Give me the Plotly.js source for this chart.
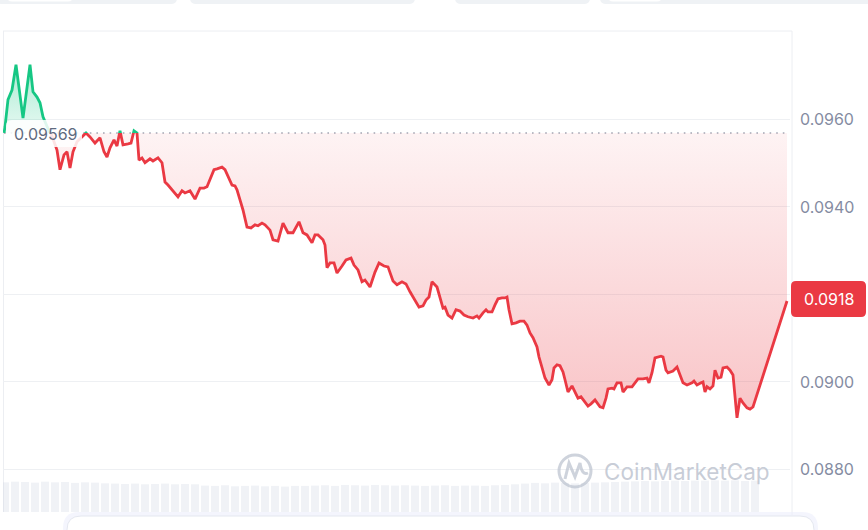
<!DOCTYPE html>
<html><head><meta charset="utf-8">
<script src="https://cdn.plot.ly/plotly-3.0.1.min.js"></script>
<style>html,body{margin:0;padding:0;background:#fff;overflow:hidden}#chart{width:868px;height:530px}</style>
</head><body><div id="chart"></div>
<script>
// ---- data (time step index across the 24h window, price in USD) ----
const t = [4,5,8,12,16,23,30,33,37,40,43,47,52,57,60,64,67,70,73,77,81,86,90,95,100,104,107,110,114,117,
120,123,128,131,134,137,139,142,145,150,153,158,162,165,168,172,175,178,182,185,190,195,200,204,207,210,214,217,222,225,
228,232,235,237,240,243,247,251,255,258,262,265,270,273,278,283,288,293,299,303,307,312,315,318,323,325,327,330,334,337,
342,346,351,354,358,362,365,370,375,379,384,388,393,397,402,406,410,415,419,423,426,429,432,437,440,443,445,448,452,456,
460,464,468,473,477,479,483,486,488,492,495,498,502,505,507,509,512,516,520,524,527,530,533,537,539,542,545,549,552,554,
557,560,563,565,568,572,575,578,581,584,588,591,595,600,603,606,608,612,614,617,621,623,627,632,635,638,643,647,649,652,
655,658,661,663,666,668,673,677,680,683,687,692,694,697,701,703,705,707,710,713,715,718,721,723,727,730,733,735,737,740,
743,747,750,753,787];
const price = [0.09569,0.09583,0.09645,0.09667,0.09725,0.09603,0.09725,0.09663,0.09651,0.09638,0.09606,0.09585,0.09562,0.09530,0.09485,0.09519,0.09526,0.09489,0.09526,0.09549,0.09558,0.09569,0.09560,0.09546,0.09558,0.09526,0.09514,0.09535,0.09553,0.09539,
0.09574,0.09542,0.09544,0.09546,0.09574,0.09569,0.09507,0.09512,0.09501,0.09510,0.09505,0.09512,0.09501,0.09457,0.09450,0.09439,0.09432,0.09423,0.09437,0.09432,0.09437,0.09418,0.09443,0.09443,0.09446,0.09462,0.09485,0.09487,0.09491,0.09485,
0.09471,0.09450,0.09448,0.09439,0.09416,0.09393,0.09354,0.09352,0.09359,0.09357,0.09363,0.09359,0.09347,0.09325,0.09322,0.09363,0.09341,0.09341,0.09366,0.09341,0.09336,0.09318,0.09336,0.09336,0.09325,0.09313,0.09261,0.09272,0.09272,0.09249,
0.09265,0.09279,0.09283,0.09267,0.09256,0.09229,0.09233,0.09217,0.09251,0.09272,0.09265,0.09263,0.09231,0.09222,0.09229,0.09224,0.09206,0.09187,0.09171,0.09174,0.09187,0.09194,0.09229,0.09217,0.09194,0.09169,0.09171,0.09153,0.09146,0.09165,
0.09162,0.09153,0.09149,0.09146,0.09151,0.09146,0.09158,0.09165,0.09160,0.09160,0.09176,0.09190,0.09192,0.09192,0.09194,0.09165,0.09133,0.09135,0.09139,0.09139,0.09130,0.09112,0.09101,0.09080,0.09057,0.09032,0.09009,0.08993,0.09005,0.09032,
0.09039,0.09037,0.09023,0.09005,0.08977,0.08991,0.08977,0.08963,0.08966,0.08957,0.08945,0.08950,0.08959,0.08943,0.08941,0.08963,0.08984,0.08986,0.08984,0.08998,0.08998,0.08977,0.08989,0.08989,0.08998,0.09007,0.09007,0.09009,0.08998,0.09021,
0.09055,0.09057,0.09059,0.09057,0.09027,0.09021,0.09025,0.09034,0.09016,0.08998,0.08993,0.08998,0.09002,0.08993,0.08998,0.09000,0.08977,0.08989,0.08984,0.08991,0.09027,0.09009,0.09011,0.09032,0.09034,0.09027,0.09016,0.08966,0.08918,0.08963,
0.08952,0.08941,0.08938,0.08943,0.09185];
const baseline = 0.09569;
const baseLabel = '0.09569';
const lastLabel = '0.0918';
const yTicks = [0.0880, 0.0900, 0.0920, 0.0940, 0.0960];
// the 0.0920 label sits under the current-price badge, so it is left blank
const yTickText = ['0.0880', '0.0900', '', '0.0940', '0.0960'];
const volT = [5,15,25,35,45,55,65,75,85,95,105,115,125,135,145,155,165,175,185,195,205,215,225,235,245,255,265,275,285,295,
305,315,325,335,345,355,365,375,385,395,405,415,425,435,445,455,465,475,485,495,505,515,525,535,545,555,565,575,585,595,
605,615,625,635,645,655,665,675,685,695,705,715,725,735,745,755];
const vol = [90,92,91,89,92,90,91,88,90,89,87,86,85,86,84,85,86,84,85,84,80,79,81,78,79,80,78,79,77,79,
79,80,81,79,82,81,80,82,81,80,81,80,79,80,81,79,80,80,79,81,82,84,86,88,87,89,88,87,88,89,
90,91,92,93,94,93,94,95,94,95,95,96,95,96,94,95];

// ---- layout geometry (pixels) ----
const W = 868, H = 530, PL = 3, PR = 790, PT = 31, PB = 515;
const X = px => (px - PL) / (PR - PL);
const Y = py => (PB - py) / (PB - PT);
const yRange = [0.08696, 0.09802];
const f = (baseline - yRange[0]) / (yRange[1] - yRange[0]);
const pyOf = v => PT + (yRange[1] - v) / (yRange[1] - yRange[0]) * (PB - PT);
function rrect(x0, y0, x1, y1, r) {
  const p = (a, b) => X(a).toFixed(5) + ',' + Y(b).toFixed(5);
  return 'M' + p(x0 + r, y0) + ' L' + p(x1 - r, y0) + ' Q' + p(x1, y0) + ' ' + p(x1, y0 + r) +
    ' L' + p(x1, y1 - r) + ' Q' + p(x1, y1) + ' ' + p(x1 - r, y1) +
    ' L' + p(x0 + r, y1) + ' Q' + p(x0, y1) + ' ' + p(x0, y1 - r) +
    ' L' + p(x0, y0 + r) + ' Q' + p(x0, y0) + ' ' + p(x0 + r, y0) + ' Z';
}
const GREEN = '#16c784', RED = '#ea3943';
const tStart = t[0], tEnd = t[t.length - 1];
const lastVal = price[price.length - 1];
const pMax = Math.max(...price), pMin = Math.min(...price);

const traces = [
  {x: [tStart, tEnd], y: [baseline, baseline], xaxis: 'x', yaxis: 'y', mode: 'lines',
   line: {color: '#a3a9b6', width: 1.6, dash: '1.6px,5px'}, hoverinfo: 'skip', showlegend: false},
  {x: [tStart, tEnd], y: [baseline, baseline], xaxis: 'x', yaxis: 'y2', mode: 'lines',
   line: {width: 0, color: 'rgba(0,0,0,0)'}, hoverinfo: 'skip', showlegend: false},
  {x: t, y: price, xaxis: 'x', yaxis: 'y2', mode: 'lines', fill: 'tonexty',
   fillgradient: {type: 'vertical', start: baseline, stop: pMax,
     colorscale: [[0, 'rgba(22,199,132,0.10)'], [1, 'rgba(22,199,132,0.36)']]},
   line: {color: GREEN, width: 2.8}, hoverinfo: 'skip', showlegend: false},
  {x: [tStart, tEnd], y: [baseline, baseline], xaxis: 'x', yaxis: 'y3', mode: 'lines',
   line: {width: 0, color: 'rgba(0,0,0,0)'}, hoverinfo: 'skip', showlegend: false},
  {x: t, y: price, xaxis: 'x', yaxis: 'y3', mode: 'lines', fill: 'tonexty',
   fillgradient: {type: 'vertical', start: pMin, stop: baseline,
     colorscale: [[0, 'rgba(234,57,67,0.30)'], [1, 'rgba(234,57,67,0.06)']]},
   line: {color: RED, width: 2.8}, hoverinfo: 'skip', showlegend: false},
  {x: volT, y: vol, type: 'bar', xaxis: 'x', yaxis: 'y4',
   marker: {color: 'rgba(205,211,224,0.30)', line: {width: 0}}, hoverinfo: 'skip', showlegend: false}
];

const lastPy = pyOf(lastVal) - 2;
const shapes = [
  // top UI strip
  {type: 'path', xref: 'paper', yref: 'paper', path: rrect(-4, -12, 177, 4, 6), fillcolor: '#eff2f5', line: {width: 0}, layer: 'above'},
  {type: 'path', xref: 'paper', yref: 'paper', path: rrect(7, -12, 73, 1.5, 5), fillcolor: '#ffffff', line: {width: 0}, layer: 'above'},
  {type: 'path', xref: 'paper', yref: 'paper', path: rrect(190, -12, 415, 4, 6), fillcolor: '#eff2f5', line: {width: 0}, layer: 'above'},
  {type: 'path', xref: 'paper', yref: 'paper', path: rrect(455, -12, 590, 4, 6), fillcolor: '#eff2f5', line: {width: 0}, layer: 'above'},
  {type: 'path', xref: 'paper', yref: 'paper', path: rrect(600, -12, 880, 4, 6), fillcolor: '#eff2f5', line: {width: 0}, layer: 'above'},
  {type: 'path', xref: 'paper', yref: 'paper', path: rrect(608, -12, 662, 1.5, 5), fillcolor: '#ffffff', line: {width: 0}, layer: 'above'},
  // frame
  {type: 'line', xref: 'paper', yref: 'paper', x0: X(3), x1: X(792), y0: Y(31), y1: Y(31), line: {color: '#eceef2', width: 1}, layer: 'below'},
  {type: 'line', xref: 'paper', yref: 'paper', x0: X(3.5), x1: X(3.5), y0: Y(31), y1: Y(512), line: {color: '#eceef2', width: 1}, layer: 'below'},
  {type: 'line', xref: 'paper', yref: 'paper', x0: X(792), x1: X(792), y0: Y(31), y1: Y(515), line: {color: '#eceef2', width: 1}, layer: 'below'},
  // baseline label box
  {type: 'path', xref: 'paper', yref: 'paper', path: rrect(6, pyOf(baseline) - 13, 82, pyOf(baseline) + 14, 6),
   fillcolor: 'rgba(255,255,255,0.86)', line: {width: 0}, layer: 'above'},
  // last price box
  {type: 'path', xref: 'paper', yref: 'paper', path: rrect(791, lastPy - 18, 866, lastPy + 18, 5),
   fillcolor: RED, line: {width: 0}, layer: 'above'},
  // watermark logo
  {type: 'circle', xref: 'paper', yref: 'paper', x0: X(559), x1: X(591), y0: Y(487), y1: Y(455),
   line: {color: 'rgba(190,196,208,0.75)', width: 3}, layer: 'above'},
  {type: 'path', xref: 'paper', yref: 'paper',
   path: 'M' + X(565) + ',' + Y(479) + ' L' + X(569) + ',' + Y(463) + ' L' + X(575) + ',' + Y(477) + ' L' + X(580) + ',' + Y(463) + ' Q' + X(582) + ',' + Y(476) + ' ' + X(588) + ',' + Y(473),
   line: {color: 'rgba(190,196,208,0.75)', width: 3}, layer: 'above'},
  // bottom card
  {type: 'path', xref: 'paper', yref: 'paper', path: rrect(63, 512, 818, 560, 16), fillcolor: 'rgba(236,239,252,0.6)', line: {width: 0}, layer: 'above'},
  {type: 'path', xref: 'paper', yref: 'paper', path: rrect(67, 516, 814, 560, 14), fillcolor: '#ffffff', line: {color: '#e4e7ef', width: 1}, layer: 'above'}
];

const annotations = [
  {xref: 'paper', yref: 'paper', x: X(45.5), y: Y(pyOf(baseline) + 1), text: baseLabel, showarrow: false,
   xanchor: 'center', yanchor: 'middle', font: {family: 'Inter, sans-serif', size: 16, color: '#5f6b80'}},
  {xref: 'paper', yref: 'paper', x: X(828.5), y: Y(lastPy), text: lastLabel, showarrow: false,
   xanchor: 'center', yanchor: 'middle', font: {family: 'Inter, sans-serif', size: 16, color: '#ffffff'}},
  {xref: 'paper', yref: 'paper', x: X(602), y: Y(471), text: 'CoinMarketCap', showarrow: false,
   xanchor: 'left', yanchor: 'middle', font: {family: 'Inter, sans-serif', size: 22.5, color: 'rgba(190,196,208,0.85)'}}
];

const layout = {
  width: W, height: H,
  margin: {l: PL, r: W - PR, t: PT, b: H - PB, pad: 0},
  paper_bgcolor: '#ffffff', plot_bgcolor: 'rgba(0,0,0,0)',
  showlegend: false, hovermode: false, bargap: 0.2,
  xaxis: {range: [PL, PR], visible: false, fixedrange: true},
  yaxis: {range: yRange, side: 'right', tickvals: yTicks, ticktext: yTickText, ticks: '',
    showgrid: true, gridcolor: '#eef0f3', gridwidth: 1, zeroline: false, showline: false,
    ticklabelstandoff: 9, tickfont: {family: 'Inter, sans-serif', size: 16, color: '#858ca2'}, fixedrange: true},
  yaxis2: {domain: [f, 1], range: [baseline, yRange[1]], anchor: 'x', visible: false, fixedrange: true},
  yaxis3: {domain: [0, f], range: [yRange[0], baseline], anchor: 'x', visible: false, fixedrange: true},
  yaxis4: {domain: [Y(512), Y(479)], range: [0, 100], anchor: 'x', visible: false, fixedrange: true},
  shapes: shapes, annotations: annotations
};
Plotly.newPlot('chart', traces, layout, {staticPlot: true, displayModeBar: false});
</script></body></html>
